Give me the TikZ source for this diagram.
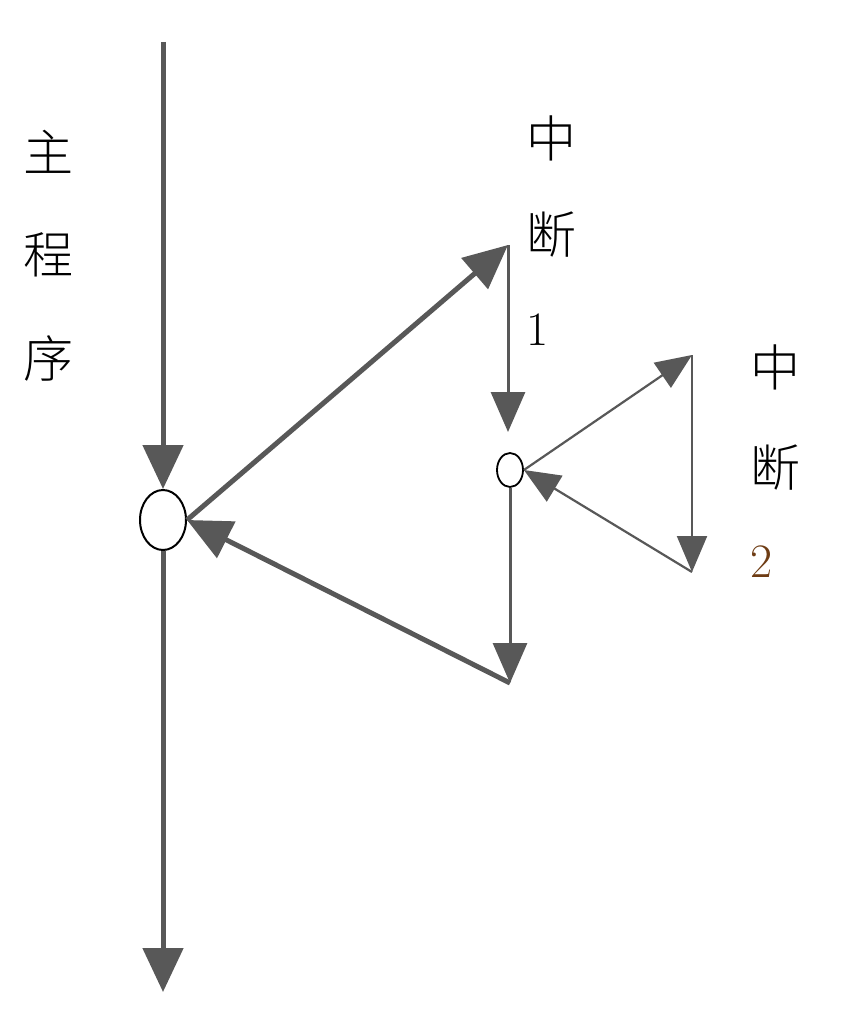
\documentclass[tikz,border=0pt]{standalone}
\usepackage{fontspec}
\newfontfamily\cjk{Noto Sans CJK SC Light}
\usetikzlibrary{arrows.meta,shapes.geometric}
\definecolor{ln}{RGB}{88,88,88}
\begin{document}
\begin{tikzpicture}[x=1pt,y=-1pt,
  big/.style={draw=ln,line width=5pt,-{Triangle[length=44pt,width=40pt]}},
  mid/.style={draw=ln,line width=3pt,-{Triangle[length=40pt,width=34pt]}},
  sm/.style={draw=ln,line width=2.2pt,-{Triangle[length=36pt,width=30pt]}},
  lbl/.style={font=\cjk\fontsize{50}{50}\selectfont,inner sep=0pt},
  num/.style={font=\fontsize{48}{48}\selectfont,inner sep=0pt}]
\useasboundingbox (0,0) rectangle (842,1032);
\node[draw=black,line width=2pt,ellipse,minimum width=46pt,minimum height=60pt,inner sep=0pt] (c1) at (163,520) {};
\node[draw=black,line width=1.8pt,ellipse,minimum width=26pt,minimum height=34pt,inner sep=0pt] (c2) at (510,470) {};
\coordinate (top) at (163,42);
\coordinate (bot) at (163,992);
\coordinate (a) at (508,245);
\coordinate (a1) at (508,432);
\coordinate (b) at (510,683);
\coordinate (p) at (692,355);
\coordinate (q) at (692,572);
\draw[big] (top) -- (c1.north);
\draw[big] (c1.south) -- (bot);
\draw[big] (c1.east) -- (a);
\draw[mid] (a) -- (a1);
\draw[mid] (c2.south) -- (b);
\draw[big] (b) -- (c1.east);
\draw[sm] (c2.east) -- (p);
\draw[sm] (p) -- (q);
\draw[sm] (q) -- (c2.east);
\node[lbl] (t1) at (48,152) {主};
\node[lbl] (t2) at (48,255) {程};
\node[lbl] (t3) at (48,358) {序};
\node[lbl] (i1) at (551,138) {中};
\node[lbl] (i2) at (551,235) {断};
\node[num] (i3) at (538,330) {1};
\node[lbl] (j1) at (775,367) {中};
\node[lbl] (j2) at (775,468) {断};
\node[num,text={rgb,255:red,110;green,60;blue,20}] (j3) at (762,562) {2};
\end{tikzpicture}
\end{document}
